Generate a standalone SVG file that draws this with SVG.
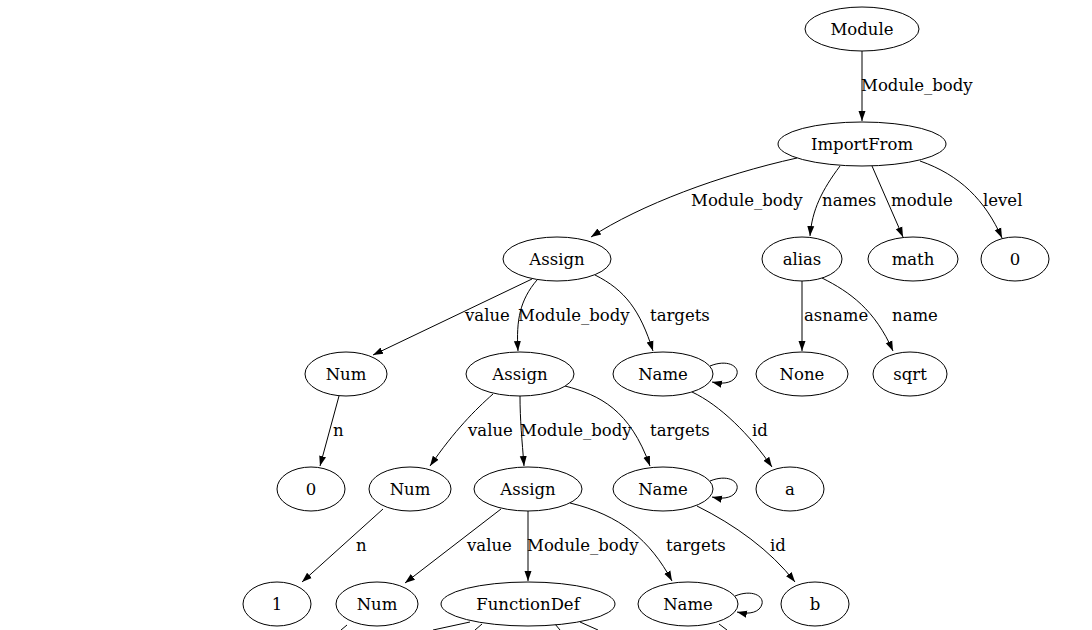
<svg xmlns="http://www.w3.org/2000/svg" width="1092" height="630" viewBox="0 0 1092 630">
<style>
ellipse{fill:#fff;stroke:#000;stroke-width:1}
text{font-family:"DejaVu Serif","Liberation Serif",serif;font-size:16.5px;fill:#000}
.n text{text-anchor:middle}
#edges path{fill:none;stroke:#000;stroke-width:1;marker-end:url(#a)}
#edges path.s{marker-end:none}
</style>
<defs><marker id="a" viewBox="0 0 10 10" refX="10" refY="5" markerWidth="10" markerHeight="10" markerUnits="userSpaceOnUse" orient="auto"><path d="M0,1.5 L10,5 L0,8.5Z" fill="#000"/></marker></defs>
<rect width="1092" height="630" fill="#fff"/>
<g id="edges">
<path d="M862,51 L862,121"/><text x="861" y="91">Module_body</text>
<path d="M797,158 C720,175 640,205 591,237"/><text x="691" y="206">Module_body</text>
<path d="M840,166 C822,190 812,210 810,236"/><text x="822" y="206">names</text>
<path d="M872,166 L903,237"/><text x="891" y="206">module</text>
<path d="M920,161 C960,175 985,200 1002,238"/><text x="983" y="206">level</text>
<path d="M532,279 L373,355"/><text x="465" y="321">value</text>
<path d="M537,280 C520,300 516,320 518,351"/><text x="518" y="321">Module_body</text>
<path d="M595,275 C625,290 640,310 653,351"/><text x="650" y="321">targets</text>
<path d="M710,366 C727,359 739,366 737,374 C735,382 725,385 712,382"/>
<path d="M692,392 C720,405 750,435 772,467"/><text x="752" y="436">id</text>
<path d="M802,281 L802,351"/><text x="804" y="321">asname</text>
<path d="M822,278 C850,292 875,310 893,351"/><text x="892" y="321">name</text>
<path d="M339,396 L320,466"/><text x="333" y="436">n</text>
<path d="M493,394 C475,410 455,430 430,466"/><text x="468" y="436">value</text>
<path d="M520,396 C520,420 522,440 524,466"/><text x="520" y="436">Module_body</text>
<path d="M565,386 C600,395 630,410 650,466"/><text x="650" y="436">targets</text>
<path d="M710,481 C727,474 739,481 737,489 C735,497 725,500 712,497"/>
<path d="M697,506 C735,525 770,550 795,582"/><text x="770" y="551">id</text>
<path d="M383,509 L302,582"/><text x="356" y="551">n</text>
<path d="M501,509 L405,583"/><text x="467" y="551">value</text>
<path d="M528,511 L528,581"/><text x="527" y="551">Module_body</text>
<path d="M570,503 C620,515 650,540 672,581"/><text x="666" y="551">targets</text>
<path d="M735,596 C752,589 764,596 762,604 C760,612 750,615 737,612"/>
<path class="s" d="M347,625 L341,630"/>
<path class="s" d="M470,622 L433,630"/>
<path class="s" d="M482,624 L475,630"/>
<path class="s" d="M555,624 L560,630"/>
<path class="s" d="M580,622 L598,630"/>
<path class="s" d="M719,624 L727,630"/>
</g>
<g class="n" id="n1"><ellipse cx="862" cy="29" rx="57" ry="22"/><text x="862" y="35">Module</text></g>
<g class="n" id="n2"><ellipse cx="862" cy="144" rx="84" ry="22"/><text x="862" y="150">ImportFrom</text></g>
<g class="n" id="n3"><ellipse cx="557" cy="259" rx="54" ry="22"/><text x="557" y="265">Assign</text></g>
<g class="n" id="n4"><ellipse cx="802" cy="259" rx="40" ry="22"/><text x="802" y="265">alias</text></g>
<g class="n" id="n5"><ellipse cx="913" cy="259" rx="45" ry="22"/><text x="913" y="265">math</text></g>
<g class="n" id="n6"><ellipse cx="1015" cy="259" rx="34" ry="22"/><text x="1015" y="265">0</text></g>
<g class="n" id="n7"><ellipse cx="346" cy="374" rx="41" ry="22"/><text x="346" y="380">Num</text></g>
<g class="n" id="n8"><ellipse cx="520" cy="374" rx="54" ry="22"/><text x="520" y="380">Assign</text></g>
<g class="n" id="n9"><ellipse cx="663" cy="374" rx="50" ry="22"/><text x="663" y="380">Name</text></g>
<g class="n" id="n10"><ellipse cx="802" cy="374" rx="46" ry="22"/><text x="802" y="380">None</text></g>
<g class="n" id="n11"><ellipse cx="910" cy="374" rx="37" ry="22"/><text x="910" y="380">sqrt</text></g>
<g class="n" id="n12"><ellipse cx="311" cy="489" rx="34" ry="22"/><text x="311" y="495">0</text></g>
<g class="n" id="n13"><ellipse cx="410" cy="489" rx="41" ry="22"/><text x="410" y="495">Num</text></g>
<g class="n" id="n14"><ellipse cx="528" cy="489" rx="54" ry="22"/><text x="528" y="495">Assign</text></g>
<g class="n" id="n15"><ellipse cx="663" cy="489" rx="50" ry="22"/><text x="663" y="495">Name</text></g>
<g class="n" id="n16"><ellipse cx="790" cy="489" rx="34" ry="22"/><text x="790" y="495">a</text></g>
<g class="n" id="n17"><ellipse cx="277" cy="604" rx="34" ry="22"/><text x="277" y="610">1</text></g>
<g class="n" id="n18"><ellipse cx="377" cy="604" rx="41" ry="22"/><text x="377" y="610">Num</text></g>
<g class="n" id="n19"><ellipse cx="528" cy="604" rx="87" ry="22"/><text x="528" y="610">FunctionDef</text></g>
<g class="n" id="n20"><ellipse cx="688" cy="604" rx="50" ry="22"/><text x="688" y="610">Name</text></g>
<g class="n" id="n21"><ellipse cx="815" cy="604" rx="34" ry="22"/><text x="815" y="610">b</text></g>
</svg>
